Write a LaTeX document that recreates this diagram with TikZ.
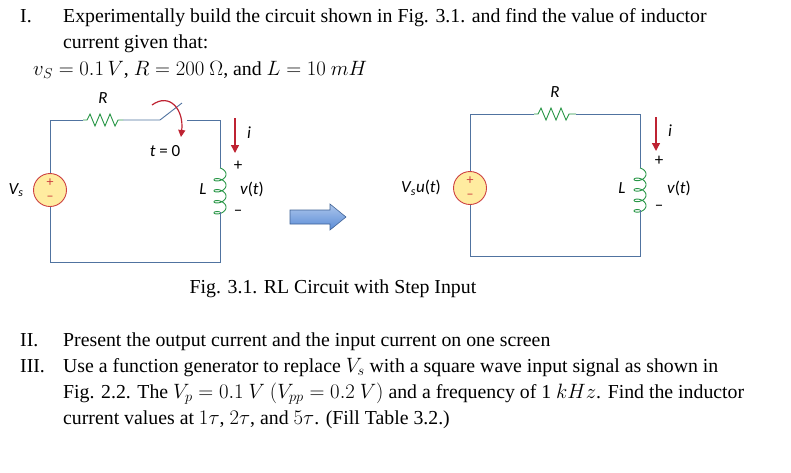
\documentclass[tikz,border=0pt]{standalone}
\usepackage{fontspec}
\setmainfont{Liberation Serif}
\newfontfamily\circfont{Carlito}
\usetikzlibrary{arrows.meta}
\definecolor{wire}{RGB}{80,115,160}
\definecolor{res}{RGB}{40,150,70}
\definecolor{srcfill}{RGB}{255,236,160}
\definecolor{srcline}{RGB}{205,65,65}
\definecolor{redarr}{RGB}{190,35,50}
\definecolor{bluearr}{RGB}{90,140,215}
\begin{document}
\begin{tikzpicture}[x=1pt,y=-1pt,
  txt/.style={anchor=base west,inner sep=0pt,font=\fontsize{19.8}{22}\selectfont},
  lbl/.style={inner sep=0pt,font=\circfont\fontsize{17}{19}\selectfont},
  pm/.style={inner sep=0pt,text=srcline,font=\circfont\fontsize{14}{14}\selectfont},
  wr/.style={wire,line width=0.9pt},
  rz/.style={res,line width=0.9pt},
  coil/.style={res,line width=0.9pt},
  src/.style={circle,draw=srcline,fill=srcfill,line width=0.9pt,minimum size=33pt,inner sep=0pt},
  iarr/.style={redarr,line width=1.4pt,-{Triangle[length=8pt,width=8pt]}}]
\useasboundingbox (0,0) rectangle (791,472);

% text above
\node[txt] at (20,22) {I.};
\node[txt] at (63,22) {Experimentally build the circuit shown in Fig. 3.1. and find the value of inductor};
\node[txt] at (63,48) {current given that:};
\node[txt] at (33,75) {$v_S = 0.1\,V$, $R = 200\ \Omega$, and $L = 10\ mH$};

% ---- left circuit
\node[src] (s1) at (50,190) {};
\node[pm] at (50,183) {+};
\node[pm] at (50,198) {\textendash};
\coordinate (a1) at (50,120); \coordinate (b1) at (220,120);
\coordinate (c1) at (220,262); \coordinate (d1) at (50,262);
\coordinate (w1a) at (160,120); \coordinate (w1b) at (187,120);
\coordinate (l1a) at (220,168); \coordinate (l1b) at (220,212);
\draw[wr] (s1.north) -- (a1) -- (83,120);
\draw[rz] (83,120) -- (87,120) -- (90,114) -- (95,126) -- (100,114) -- (105,126) -- (110,114) -- (115,126) -- (118,120) -- (123,120);
\draw[wr] (123,120) -- (w1a) -- (182,103);
\draw[wr] (w1b) -- (b1) -- (l1a);
\draw[coil] plot[domain=0:1440,samples=160,smooth] ({220+6*sin(\x)}, {168+(\x/1440)*44+3.5*(1-cos(\x))});
\draw[wr] (l1b) -- (c1) -- (d1) -- (s1.south);
\draw[redarr,line width=1.2pt,-{Triangle[length=7pt,width=7pt]}] (152,105) .. controls (170,92) and (184,110) .. (181,137);
\node[lbl] at (165,151) {\itshape t \upshape= 0};
\node[lbl] at (103,98) {\itshape R};
\node[lbl] at (16,190) {\itshape V\textsubscript{s}};
\node[lbl] at (203,189) {\itshape L};
\draw[iarr] (235,118) -- (235,153);
\node[lbl] at (249,133) {\itshape i};
\node[lbl] at (238,166) {+};
\node[lbl] at (252,189) {\itshape v\upshape(\itshape t\upshape)};
\node[lbl] at (238,213) {\textendash};

% blue arrow
\draw[draw=bluearr!70!black,top color=bluearr!50!white,bottom color=bluearr,line width=0.6pt]
  (290,210) -- (330,210) -- (330,204) -- (346,217) -- (330,230) -- (330,224) -- (290,224) -- cycle;

% ---- right circuit
\node[src] (s2) at (470,188) {};
\node[pm] at (470,181) {+};
\node[pm] at (470,196) {\textendash};
\coordinate (a2) at (470,114); \coordinate (b2) at (640,114);
\coordinate (c2) at (640,256); \coordinate (d2) at (470,256);
\coordinate (l2a) at (640,168); \coordinate (l2b) at (640,210);
\draw[wr] (s2.north) -- (a2) -- (534,114);
\draw[rz] (534,114) -- (538,114) -- (541,108) -- (546,120) -- (551,108) -- (556,120) -- (561,108) -- (566,120) -- (569,114) -- (576,114);
\draw[wr] (576,114) -- (b2) -- (l2a);
\draw[coil] plot[domain=0:1440,samples=160,smooth] ({640+6*sin(\x)}, {168+(\x/1440)*42+3.5*(1-cos(\x))});
\draw[wr] (l2b) -- (c2) -- (d2) -- (s2.south);
\node[lbl] at (555,92) {\itshape R};
\node[lbl] at (421,188) {\itshape V\textsubscript{s}u\upshape(\itshape t\upshape)};
\node[lbl] at (622,188) {\itshape L};
\draw[iarr] (656,117) -- (656,151);
\node[lbl] at (670,131) {\itshape i};
\node[lbl] at (659,161) {+};
\node[lbl] at (679,188) {\itshape v\upshape(\itshape t\upshape)};
\node[lbl] at (659,208) {\textendash};

\node[txt,anchor=base] at (333,293) {Fig. 3.1. RL Circuit with Step Input};

% text below
\node[txt] at (20,346) {II.};
\node[txt] at (63,346) {Present the output current and the input current on one screen};
\node[txt] at (20,372) {III.};
\node[txt] at (63,372) {Use a function generator to replace $V_s$ with a square wave input signal as shown in};
\node[txt] at (63,398) {Fig. 2.2. The $V_p = 0.1\ V$ $(V_{pp} = 0.2\ V)$ and a frequency of 1 $kHz$. Find the inductor};
\node[txt] at (63,424) {current values at $1\tau$, $2\tau$, and $5\tau$. (Fill Table 3.2.)};
\end{tikzpicture}
\end{document}
